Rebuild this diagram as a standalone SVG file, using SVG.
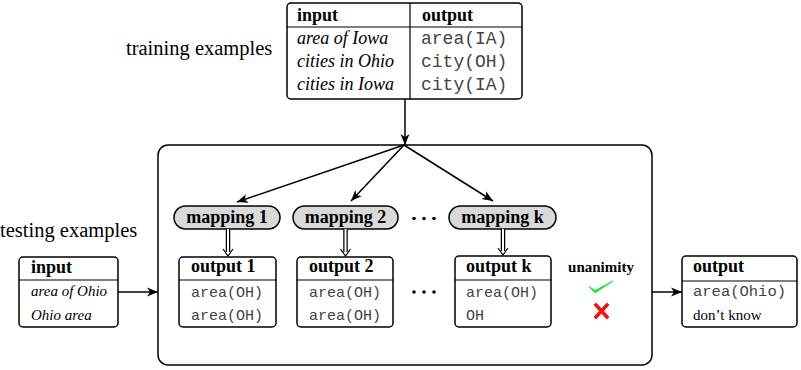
<svg xmlns="http://www.w3.org/2000/svg" width="801" height="370" viewBox="0 0 801 370">
<defs>
<marker id="ah" markerUnits="userSpaceOnUse" markerWidth="12" markerHeight="10" refX="11" refY="5" orient="auto">
<path d="M0,0.5 L11,5 L0,9.5 L3,5 z" fill="#000"/>
</marker>
</defs>
<style>
.box{fill:#fff;stroke:#000;stroke-width:1.5}
.pill{fill:#d9d9d9;stroke:#000;stroke-width:1.5}
.ln{stroke:#000;stroke-width:1.2;fill:none}
.hd{font-family:"Liberation Serif",serif;font-weight:bold;font-size:18px}
.it{font-family:"Liberation Serif",serif;font-style:italic}
.rm{font-family:"Liberation Serif",serif}
.mono{font-family:"Liberation Mono",monospace;fill:#444}
.arr{stroke:#000;stroke-width:1.5;fill:none;marker-end:url(#ah)}
.dbl{stroke:#000;stroke-width:4.5}
.dbli{stroke:#fff;stroke-width:2}
.dot{fill:#000}
</style>

<text class="rm" x="126" y="55" font-size="20.5">training examples</text>
<text class="rm" x="0" y="237" font-size="20.5">testing examples</text>

<g id="training">
<rect class="box" x="287" y="3" width="235" height="96" rx="4"/>
<line class="ln" x1="287" y1="27" x2="522" y2="27"/>
<line class="ln" x1="410" y1="3" x2="410" y2="99"/>
<text class="hd" x="297" y="21">input</text>
<text class="hd" x="422" y="21">output</text>
<text class="it" x="297" y="44" font-size="18">area of Iowa</text>
<text class="it" x="297" y="67" font-size="18">cities in Ohio</text>
<text class="it" x="297" y="90" font-size="18">cities in Iowa</text>
<text class="mono" x="421" y="44" font-size="18">area(IA)</text>
<text class="mono" x="421" y="67" font-size="18">city(OH)</text>
<text class="mono" x="421" y="90" font-size="18">city(IA)</text>
</g>

<g id="system">
<rect class="box" x="158" y="145" width="494" height="220" rx="10"/>
</g>

<g id="mapping1">
<rect class="pill" x="174" y="206" width="106" height="23" rx="11.5"/>
<text class="hd" x="227" y="223" text-anchor="middle">mapping 1</text>
</g>
<g id="mapping2">
<rect class="pill" x="293" y="206" width="105" height="23" rx="11.5"/>
<text class="hd" x="345.5" y="223" text-anchor="middle">mapping 2</text>
</g>
<g id="mappingk">
<rect class="pill" x="449" y="206" width="107" height="23" rx="11.5"/>
<text class="hd" x="502.5" y="223" text-anchor="middle">mapping k</text>
</g>

<g id="output1">
<rect class="box" x="179" y="257" width="97" height="70" rx="4"/>
<line class="ln" x1="179" y1="280" x2="276" y2="280"/>
<text class="hd" x="191" y="272">output 1</text>
<text class="mono" x="191" y="297" font-size="15">area(OH)</text>
<text class="mono" x="191" y="320" font-size="15">area(OH)</text>
</g>
<g id="output2">
<rect class="box" x="297" y="257" width="96" height="70" rx="4"/>
<line class="ln" x1="297" y1="280" x2="393" y2="280"/>
<text class="hd" x="309" y="272">output 2</text>
<text class="mono" x="309" y="297" font-size="15">area(OH)</text>
<text class="mono" x="309" y="320" font-size="15">area(OH)</text>
</g>
<g id="outputk">
<rect class="box" x="455" y="256" width="96" height="71" rx="4"/>
<line class="ln" x1="455" y1="280" x2="551" y2="280"/>
<text class="hd" x="466" y="272">output k</text>
<text class="mono" x="466" y="297" font-size="15">area(OH)</text>
<text class="mono" x="466" y="320" font-size="15">OH</text>
</g>

<g id="ellipsis">
<circle class="dot" cx="414" cy="218.5" r="1.8"/>
<circle class="dot" cx="424" cy="218.5" r="1.8"/>
<circle class="dot" cx="434" cy="218.5" r="1.8"/>
<circle class="dot" cx="414" cy="292" r="1.8"/>
<circle class="dot" cx="424" cy="292" r="1.8"/>
<circle class="dot" cx="434" cy="292" r="1.8"/>
</g>

<g id="unanimity">
<text class="hd" x="601" y="272" style="font-size:15px" text-anchor="middle">unanimity</text>
<path d="M589,286.5 L595,293 L613,281 L595,290.5 z" fill="#33dd33" stroke="#33dd33" stroke-width="1" stroke-linejoin="round"/>
<path d="M596,305 L607,317 M607,305 L596,317" stroke="#ee1111" stroke-width="3.5" stroke-linecap="square"/>
</g>

<g id="input">
<rect class="box" x="19" y="257" width="99" height="70" rx="4"/>
<line class="ln" x1="19" y1="280" x2="118" y2="280"/>
<text class="hd" x="31" y="273">input</text>
<text class="it" x="31" y="296" font-size="15">area of Ohio</text>
<text class="it" x="31" y="320" font-size="15">Ohio area</text>
</g>

<g id="output">
<rect class="box" x="682" y="256" width="115" height="71" rx="4"/>
<line class="ln" x1="682" y1="281" x2="797" y2="281"/>
<text class="hd" x="693" y="272">output</text>
<text class="mono" x="693" y="296" font-size="15.5">area(Ohio)</text>
<text class="rm" x="693" y="320" font-size="15">don’t know</text>
</g>

<g id="connectors">
<line class="arr" x1="405" y1="99" x2="405" y2="145"/>
<line class="arr" x1="404" y1="145" x2="237" y2="202"/>
<line class="arr" x1="404" y1="145" x2="351" y2="201"/>
<line class="arr" x1="404" y1="145" x2="493" y2="201"/>
<line class="arr" x1="118" y1="292" x2="158" y2="292"/>
<line class="arr" x1="652" y1="292" x2="682" y2="292"/>
<g>
<line class="dbl" x1="228" y1="229" x2="228" y2="252"/>
<line class="dbli" x1="228" y1="229" x2="228" y2="253"/>
<path class="ln" d="M223,249 L228,256 L233,249"/>
<line class="dbl" x1="345.5" y1="229" x2="345.5" y2="252"/>
<line class="dbli" x1="345.5" y1="229" x2="345.5" y2="253"/>
<path class="ln" d="M340.5,249 L345.5,256 L350.5,249"/>
<line class="dbl" x1="503" y1="229" x2="503" y2="251"/>
<line class="dbli" x1="503" y1="229" x2="503" y2="252"/>
<path class="ln" d="M498,248 L503,255 L508,248"/>
</g>
</g>
</svg>
